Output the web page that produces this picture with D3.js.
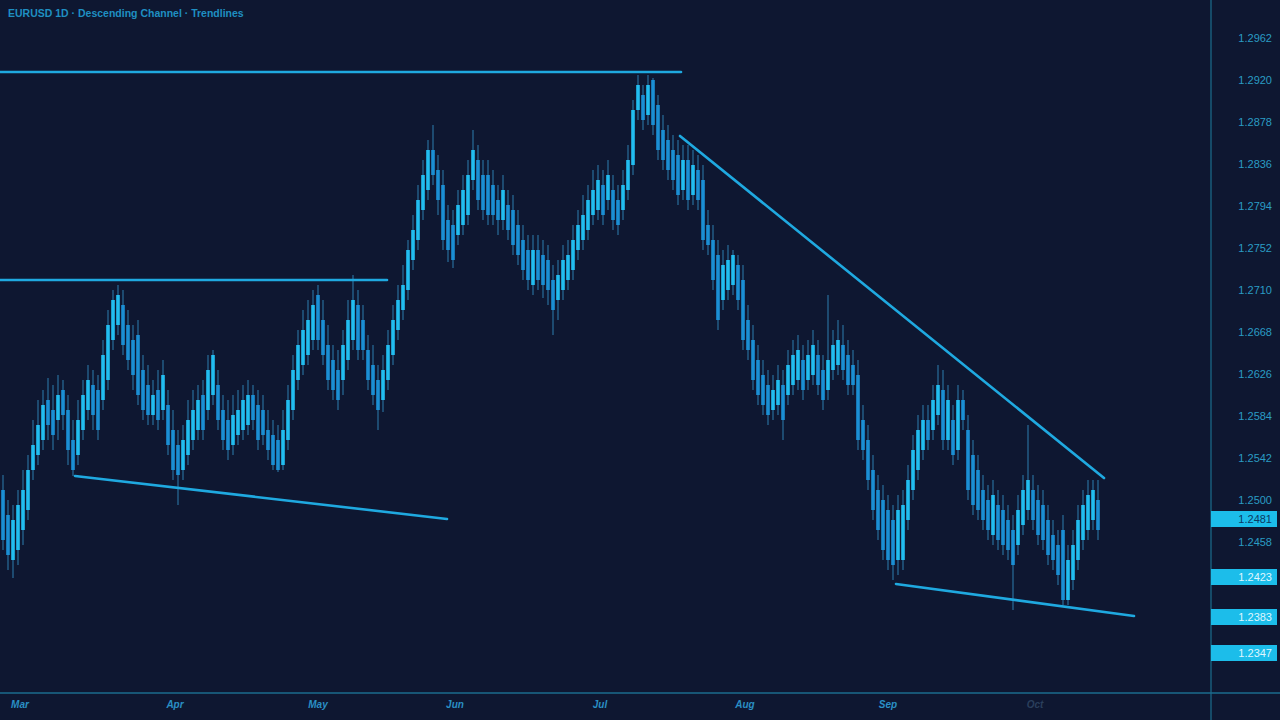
<!DOCTYPE html>
<html>
<head>
<meta charset="utf-8">
<script src="https://cdn.jsdelivr.net/npm/d3@7"></script>
<style>
    html, body { margin: 0; padding: 0; background: #0e1731; overflow: hidden; }
    text { font-family: "Liberation Sans", "DejaVu Sans", sans-serif; }
</style>
</head>
<body>
<svg id="chart" width="1280" height="720"></svg>
<script>
const title = 'EURUSD 1D · Descending Channel · Trendlines';

// [open, high, low, close]
const candles = [
    [1.2510,1.2525,1.2450,1.2460],[1.2485,1.2500,1.2430,1.2445],[1.2440,1.2495,1.2422,1.2480],[1.2450,1.2510,1.2435,1.2495],
    [1.2470,1.2530,1.2455,1.2510],[1.2490,1.2545,1.2480,1.2530],[1.2530,1.2580,1.2520,1.2555],[1.2545,1.2600,1.2535,1.2575],
    [1.2560,1.2610,1.2550,1.2595],[1.2600,1.2622,1.2560,1.2575],[1.2590,1.2615,1.2550,1.2565],[1.2580,1.2625,1.2560,1.2605],
    [1.2610,1.2620,1.2570,1.2585],[1.2590,1.2605,1.2535,1.2550],[1.2560,1.2580,1.2524,1.2530],[1.2545,1.2600,1.2535,1.2580],
    [1.2570,1.2620,1.2560,1.2605],[1.2590,1.2635,1.2580,1.2620],[1.2615,1.2630,1.2570,1.2585],[1.2610,1.2625,1.2560,1.2570],
    [1.2600,1.2660,1.2590,1.2645],[1.2620,1.2690,1.2610,1.2675],[1.2660,1.2710,1.2650,1.2700],[1.2675,1.2715,1.2665,1.2705],
    [1.2695,1.2710,1.2645,1.2655],[1.2675,1.2690,1.2630,1.2640],[1.2660,1.2675,1.2610,1.2625],[1.2665,1.2680,1.2595,1.2605],
    [1.2630,1.2645,1.2580,1.2590],[1.2615,1.2635,1.2575,1.2585],[1.2585,1.2620,1.2575,1.2605],[1.2610,1.2630,1.2570,1.2580],
    [1.2590,1.2640,1.2580,1.2625],[1.2595,1.2610,1.2545,1.2555],[1.2570,1.2590,1.2520,1.2530],[1.2555,1.2570,1.2495,1.2525],
    [1.2530,1.2575,1.2520,1.2560],[1.2545,1.2600,1.2535,1.2580],[1.2560,1.2610,1.2550,1.2590],[1.2570,1.2615,1.2560,1.2600],
    [1.2605,1.2620,1.2560,1.2570],[1.2590,1.2645,1.2580,1.2630],[1.2605,1.2650,1.2595,1.2645],[1.2615,1.2630,1.2570,1.2580],
    [1.2590,1.2605,1.2550,1.2560],[1.2580,1.2600,1.2540,1.2550],[1.2555,1.2605,1.2545,1.2585],[1.2565,1.2610,1.2555,1.2590],
    [1.2570,1.2615,1.2560,1.2600],[1.2575,1.2620,1.2565,1.2605],[1.2605,1.2615,1.2570,1.2580],[1.2595,1.2610,1.2550,1.2560],
    [1.2590,1.2605,1.2555,1.2565],[1.2570,1.2590,1.2540,1.2550],[1.2565,1.2580,1.2530,1.2535],[1.2560,1.2575,1.2528,1.2530],
    [1.2535,1.2590,1.2530,1.2570],[1.2560,1.2615,1.2550,1.2600],[1.2590,1.2645,1.2580,1.2630],[1.2620,1.2670,1.2610,1.2655],
    [1.2635,1.2690,1.2625,1.2670],[1.2645,1.2700,1.2635,1.2680],[1.2660,1.2710,1.2650,1.2695],[1.2705,1.2715,1.2650,1.2660],
    [1.2680,1.2700,1.2635,1.2645],[1.2655,1.2675,1.2610,1.2620],[1.2640,1.2655,1.2600,1.2610],[1.2630,1.2650,1.2590,1.2600],
    [1.2620,1.2670,1.2605,1.2655],[1.2640,1.2700,1.2630,1.2680],[1.2660,1.2725,1.2650,1.2700],[1.2695,1.2710,1.2640,1.2650],
    [1.2680,1.2695,1.2640,1.2650],[1.2650,1.2665,1.2610,1.2620],[1.2635,1.2655,1.2595,1.2605],[1.2620,1.2635,1.2570,1.2590],
    [1.2600,1.2645,1.2588,1.2630],[1.2620,1.2670,1.2610,1.2655],[1.2645,1.2695,1.2635,1.2680],[1.2670,1.2715,1.2660,1.2700],
    [1.2690,1.2735,1.2680,1.2715],[1.2710,1.2760,1.2700,1.2750],[1.2740,1.2785,1.2730,1.2770],[1.2760,1.2815,1.2750,1.2800],
    [1.2790,1.2840,1.2780,1.2825],[1.2810,1.2860,1.2800,1.2850],[1.2850,1.2875,1.2815,1.2825],[1.2830,1.2845,1.2785,1.2800],
    [1.2815,1.2830,1.2750,1.2760],[1.2780,1.2795,1.2738,1.2750],[1.2775,1.2790,1.2732,1.2740],[1.2765,1.2810,1.2755,1.2795],
    [1.2775,1.2825,1.2765,1.2810],[1.2785,1.2840,1.2775,1.2825],[1.2820,1.2870,1.2810,1.2850],[1.2840,1.2855,1.2790,1.2800],
    [1.2825,1.2840,1.2780,1.2790],[1.2825,1.2840,1.2775,1.2785],[1.2815,1.2830,1.2775,1.2785],[1.2800,1.2815,1.2765,1.2780],
    [1.2780,1.2825,1.2770,1.2810],[1.2795,1.2810,1.2760,1.2770],[1.2790,1.2805,1.2745,1.2755],[1.2775,1.2790,1.2735,1.2745],
    [1.2760,1.2775,1.2720,1.2730],[1.2750,1.2765,1.2710,1.2720],[1.2715,1.2765,1.2705,1.2750],[1.2750,1.2765,1.2710,1.2720],
    [1.2745,1.2760,1.2702,1.2715],[1.2740,1.2755,1.2695,1.2710],[1.2720,1.2735,1.2665,1.2690],[1.2700,1.2740,1.2680,1.2725],
    [1.2710,1.2755,1.2700,1.2740],[1.2720,1.2760,1.2710,1.2745],[1.2730,1.2775,1.2720,1.2760],[1.2750,1.2790,1.2740,1.2775],
    [1.2760,1.2805,1.2750,1.2785],[1.2770,1.2815,1.2760,1.2800],[1.2785,1.2830,1.2775,1.2810],[1.2790,1.2835,1.2780,1.2820],
    [1.2815,1.2830,1.2775,1.2785],[1.2800,1.2840,1.2790,1.2825],[1.2810,1.2825,1.2770,1.2780],[1.2800,1.2815,1.2765,1.2775],
    [1.2790,1.2830,1.2780,1.2815],[1.2810,1.2855,1.2800,1.2840],[1.2835,1.2900,1.2825,1.2890],[1.2890,1.2925,1.2880,1.2915],
    [1.2905,1.2915,1.2870,1.2880],[1.2885,1.2925,1.2875,1.2915],[1.2920,1.2922,1.2865,1.2875],[1.2895,1.2905,1.2840,1.2850],
    [1.2870,1.2885,1.2830,1.2840],[1.2860,1.2875,1.2820,1.2830],[1.2850,1.2865,1.2810,1.2820],[1.2845,1.2860,1.2795,1.2805],
    [1.2810,1.2855,1.2800,1.2840],[1.2840,1.2855,1.2790,1.2800],[1.2805,1.2850,1.2795,1.2835],[1.2830,1.2845,1.2790,1.2800],
    [1.2820,1.2835,1.2750,1.2760],[1.2775,1.2790,1.2745,1.2755],[1.2760,1.2775,1.2710,1.2720],[1.2745,1.2760,1.2670,1.2680],
    [1.2700,1.2750,1.2690,1.2735],[1.2710,1.2755,1.2700,1.2740],[1.2715,1.2750,1.2705,1.2745],[1.2735,1.2745,1.2690,1.2700],
    [1.2720,1.2735,1.2650,1.2660],[1.2680,1.2695,1.2640,1.2650],[1.2660,1.2675,1.2610,1.2620],[1.2640,1.2655,1.2595,1.2605],
    [1.2625,1.2640,1.2585,1.2595],[1.2615,1.2630,1.2575,1.2585],[1.2590,1.2625,1.2580,1.2610],[1.2595,1.2635,1.2585,1.2620],
    [1.2615,1.2630,1.2560,1.2580],[1.2605,1.2650,1.2595,1.2635],[1.2615,1.2660,1.2605,1.2645],[1.2620,1.2665,1.2610,1.2650],
    [1.2640,1.2655,1.2600,1.2610],[1.2620,1.2660,1.2610,1.2645],[1.2625,1.2670,1.2615,1.2655],[1.2645,1.2660,1.2605,1.2615],
    [1.2630,1.2645,1.2590,1.2600],[1.2610,1.2705,1.2600,1.2640],[1.2630,1.2670,1.2620,1.2655],[1.2635,1.2680,1.2625,1.2660],
    [1.2655,1.2675,1.2620,1.2630],[1.2645,1.2660,1.2605,1.2615],[1.2635,1.2650,1.2605,1.2615],[1.2625,1.2640,1.2550,1.2560],
    [1.2580,1.2595,1.2540,1.2550],[1.2560,1.2575,1.2510,1.2520],[1.2530,1.2545,1.2480,1.2490],[1.2510,1.2525,1.2460,1.2470],
    [1.2500,1.2515,1.2440,1.2450],[1.2490,1.2505,1.2430,1.2440],[1.2480,1.2495,1.2420,1.2435],[1.2440,1.2505,1.2425,1.2490],
    [1.2440,1.2510,1.2430,1.2495],[1.2480,1.2535,1.2470,1.2520],[1.2510,1.2565,1.2500,1.2550],[1.2530,1.2585,1.2520,1.2570],
    [1.2550,1.2595,1.2540,1.2580],[1.2580,1.2595,1.2550,1.2560],[1.2570,1.2615,1.2560,1.2600],[1.2585,1.2635,1.2575,1.2615],
    [1.2610,1.2630,1.2550,1.2560],[1.2560,1.2615,1.2550,1.2600],[1.2580,1.2595,1.2535,1.2545],[1.2550,1.2615,1.2540,1.2600],
    [1.2600,1.2610,1.2570,1.2580],[1.2570,1.2585,1.2500,1.2510],[1.2545,1.2560,1.2485,1.2495],[1.2530,1.2545,1.2480,1.2490],
    [1.2510,1.2525,1.2470,1.2480],[1.2500,1.2515,1.2460,1.2470],[1.2465,1.2520,1.2455,1.2505],[1.2495,1.2510,1.2450,1.2460],
    [1.2490,1.2505,1.2445,1.2455],[1.2480,1.2495,1.2440,1.2450],[1.2470,1.2485,1.2390,1.2435],[1.2455,1.2505,1.2445,1.2490],
    [1.2475,1.2525,1.2465,1.2510],[1.2490,1.2575,1.2480,1.2520],[1.2510,1.2525,1.2470,1.2480],[1.2500,1.2515,1.2455,1.2465],
    [1.2495,1.2510,1.2450,1.2460],[1.2480,1.2495,1.2435,1.2445],[1.2465,1.2480,1.2430,1.2440],[1.2455,1.2470,1.2415,1.2425],
    [1.2470,1.2485,1.2395,1.2400],[1.2400,1.2455,1.2395,1.2440],[1.2420,1.2470,1.2410,1.2455],[1.2440,1.2495,1.2430,1.2480],
    [1.2460,1.2510,1.2450,1.2495],[1.2470,1.2520,1.2460,1.2505],[1.2480,1.2520,1.2470,1.2510],[1.2500,1.2520,1.2460,1.2470]
];

// trendlines: [startIndex, startPrice, endIndex, endPrice]
const trendlines = [
    [-0.6, 1.2928, 135.6, 1.2928],
    [-0.6, 1.2720, 76.8, 1.2720],
    [14.4, 1.2524, 88.8, 1.2481],
    [135.4, 1.2864, 220.2, 1.2522],
    [178.6, 1.2416, 226.2, 1.2384]
];

const priceTicks = [1.2962, 1.2920, 1.2878, 1.2836, 1.2794, 1.2752, 1.2710, 1.2668, 1.2626, 1.2584, 1.2542, 1.2500, 1.2458];
const priceTags = [1.2481, 1.2423, 1.2383, 1.2347];

const dateTickIndex = [3.4, 34.4, 63, 90.4, 119.4, 148.4, 177, 206.4];
const dateTickLabels = ['Mar', 'Apr', 'May', 'Jun', 'Jul', 'Aug', 'Sep', 'Oct'];

const width = 1280, height = 720;
const axisX = 1211, axisY = 693;

const svg = d3.select('#chart');

svg.append('rect')
    .attr('width', width)
    .attr('height', height)
    .style('fill', '#0e1731');

const x = d3.scaleLinear().domain([0, candles.length - 1]).range([3, 1098]);
const y = d3.scaleLinear().domain([1.3000, 1.2307]).range([0, axisY]);

// Title
svg.append('text')
    .attr('x', 8)
    .attr('y', 17)
    .style('font-size', '10.5px')
    .style('font-weight', 'bold')
    .style('fill', '#1f8fc2')
    .text(title);

// Axis lines
svg.append('line')
    .attr('x1', 0).attr('x2', width)
    .attr('y1', axisY).attr('y2', axisY)
    .style('stroke', '#1b6d8e')
    .style('stroke-width', 1.5);

svg.append('line')
    .attr('x1', axisX).attr('x2', axisX)
    .attr('y1', 0).attr('y2', height)
    .style('stroke', '#1b6d8e')
    .style('stroke-width', 1.2);

// Candles
const candle_group = svg.append('g');

candle_group.selectAll('line')
    .data(candles)
    .enter()
    .append('line')
    .attr('x1', (d, i) => x(i))
    .attr('x2', (d, i) => x(i))
    .attr('y1', d => y(d[1]))
    .attr('y2', d => y(d[2]))
    .style('stroke', '#2c7fb0')
    .style('stroke-width', 1);

candle_group.selectAll('rect')
    .data(candles)
    .enter()
    .append('rect')
    .attr('x', (d, i) => x(i) - 1.8)
    .attr('width', 3.6)
    .attr('y', d => y(Math.max(d[0], d[3])))
    .attr('height', d => Math.max(1, Math.abs(y(d[0]) - y(d[3]))))
    .style('fill', d => d[3] >= d[0] ? '#22bdf0' : '#1b8fd4');

// Trendlines
svg.append('g').selectAll('line')
    .data(trendlines)
    .enter()
    .append('line')
    .attr('x1', d => x(d[0]))
    .attr('y1', d => y(d[1]))
    .attr('x2', d => x(d[2]))
    .attr('y2', d => y(d[3]))
    .style('stroke', '#1fa9e0')
    .style('stroke-width', 2.6)
    .style('stroke-linecap', 'round');

// Price axis labels
svg.append('g').selectAll('text')
    .data(priceTicks)
    .enter()
    .append('text')
    .attr('x', 1272)
    .attr('y', d => y(d) + 4)
    .attr('text-anchor', 'end')
    .style('font-size', '11px')
    .style('fill', '#2a9cc4')
    .text(d => d3.format('.4f')(d));

// Price tags
const tag_group = svg.append('g').selectAll('g')
    .data(priceTags)
    .enter()
    .append('g')
    .attr('transform', d => `translate(${axisX}, ${y(d)})`);

tag_group.append('rect')
    .attr('x', 0)
    .attr('y', -8)
    .attr('width', 66)
    .attr('height', 16)
    .style('fill', '#1cbdea');

tag_group.append('text')
    .attr('x', 61)
    .attr('y', 4)
    .attr('text-anchor', 'end')
    .style('font-size', '11px')
    .style('fill', (d, i) => i == 0 ? '#0b3a63' : '#dff6ff')
    .text(d => d3.format('.4f')(d));

// Date labels
svg.append('g').selectAll('text')
    .data(dateTickIndex)
    .enter()
    .append('text')
    .attr('x', d => x(d))
    .attr('y', 708)
    .attr('text-anchor', 'middle')
    .style('font-size', '10px')
    .style('font-style', 'italic')
    .style('font-weight', 'bold')
    .style('fill', (d, i) => i == dateTickIndex.length - 1 ? '#2a3f5c' : '#2a8fc4')
    .text((d, i) => dateTickLabels[i]);
</script>
</body>
</html>
